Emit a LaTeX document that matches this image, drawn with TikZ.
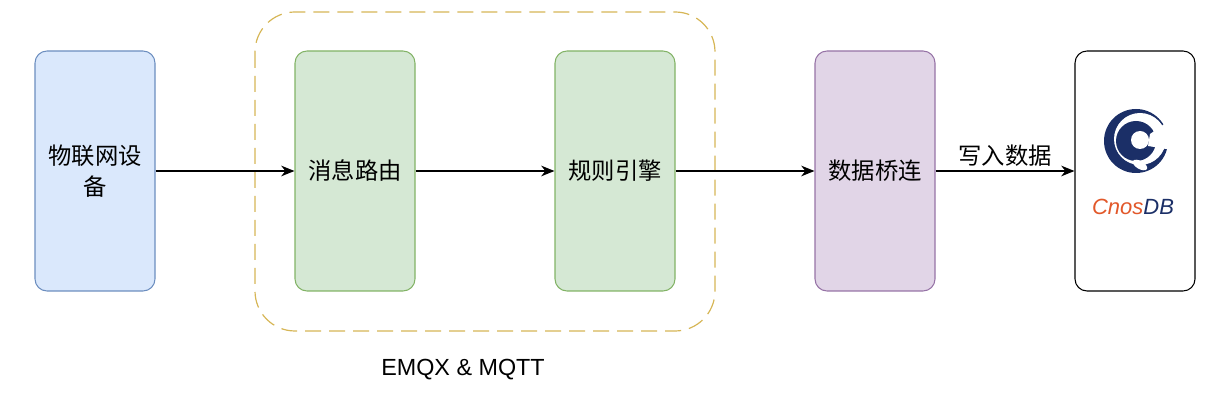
\documentclass[tikz,border=0pt]{standalone}
\usepackage{fontspec}
\setmainfont{Liberation Sans}
\newfontfamily\cjk{Noto Sans CJK SC}
\usetikzlibrary{arrows.meta}
\definecolor{bfill}{HTML}{DAE8FC}\definecolor{bdraw}{HTML}{6C8EBF}
\definecolor{gfill}{HTML}{D5E8D4}\definecolor{gdraw}{HTML}{82B366}
\definecolor{pfill}{HTML}{E1D5E7}\definecolor{pdraw}{HTML}{9673A6}
\definecolor{ydraw}{HTML}{D6B656}\definecolor{navy}{HTML}{1B2F67}
\definecolor{corange}{HTML}{E2582A}
\begin{document}
\begin{tikzpicture}[x=0.75pt,y=-0.75pt,
 box/.style={rounded corners=9pt,minimum width=90pt,minimum height=180pt,line width=0.8pt,align=center,font=\cjk\fontsize{17.5}{23}\selectfont},
 arr/.style={-{Stealth[length=10pt,width=8pt]},line width=0.8pt}]
\useasboundingbox (0,0) rectangle (1228,402);
\draw[ydraw,line width=0.9pt,dash pattern=on 12pt off 6pt,rounded corners=30pt] (255,12) rectangle (715,331);
\node[box,fill=bfill,draw=bdraw] (iot) at (95,171) {物联网设\\备};
\node[box,fill=gfill,draw=gdraw] (msg) at (355,171) {消息路由};
\node[box,fill=gfill,draw=gdraw] (rule) at (615,171) {规则引擎};
\node[box,fill=pfill,draw=pdraw] (bridge) at (875,171) {数据桥连};
\node[box,fill=white,draw=black] (db) at (1135,171) {};
\node[font=\fontsize{17.5}{20}\selectfont] (emqx) at (463,370) {EMQX \& MQTT};
\draw[arr] (iot) -- (msg);
\draw[arr] (msg) -- (rule);
\draw[arr] (rule) -- (bridge);
\draw[arr] (bridge) -- node[above,font=\cjk\fontsize{17.5}{20}\selectfont,yshift=0pt] (wl) {写入数据} (db);
% logo
\fill[navy] (1136,141) circle[radius=32];
\fill[white] (1140,139) circle[radius=26];
\fill[navy] (1136,141) circle[radius=20];
\fill[white] (1140,140) circle[radius=9];
\fill[white] (1150,134) -- (1170,120) -- (1172,150) -- (1148,146) -- cycle;
\fill[white,rotate around={-30:(1140,165)}] (1140,165) ellipse[x radius=8, y radius=4];
\node[font=\itshape\fontsize{16.5}{18}\selectfont,text=corange] (logo) at (1133,207) {Cnos\textcolor{navy}{DB}};
\end{tikzpicture}
\end{document}
